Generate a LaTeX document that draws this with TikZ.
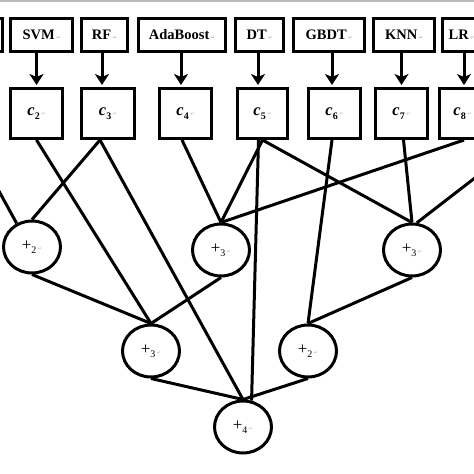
\documentclass[tikz,border=0pt]{standalone}
\usepackage{fontspec}
\setmainfont{Liberation Serif}
\newfontfamily\markfont{DejaVu Sans}
\usetikzlibrary{arrows.meta,shapes.geometric}
\newcommand{\rmark}{\hspace{1.5pt}{\markfont\fontsize{5}{5}\selectfont\color{gray!60}↵}}
\newcommand{\mysub}[1]{\raisebox{-3.5pt}{\fontsize{10}{10}\selectfont #1}}
\newcommand{\cl}[1]{\raisebox{-4pt}{{\bfseries\itshape c}\mysub{\bfseries #1}\rmark}}
\newcommand{\pl}[1]{{\fontsize{17}{17}\selectfont +}\mysub{#1}\rmark}
\begin{document}
\begin{tikzpicture}[x=1pt,y=-1pt,
 topbox/.style={draw,line width=3pt,minimum height=33pt,inner sep=0pt,font=\fontsize{14.5}{14.5}\selectfont\bfseries},
 cbox/.style={draw,line width=3pt,minimum height=50pt,inner sep=0pt,font=\fontsize{16.5}{16.5}\selectfont},
 sumnode/.style={draw,ellipse,line width=3pt,minimum width=57pt,minimum height=52pt,inner sep=0pt,font=\fontsize{15}{15}\selectfont},
 conn/.style={line width=3pt},
 arr/.style={line width=3pt,shorten >=2pt,-{Stealth[length=11pt,width=14pt,inset=3pt]}}]
\useasboundingbox (0,0) rectangle (474,474);
\clip (0,0) rectangle (474,474);
\fill[gray!55] (0,0) rectangle (474,2);
% top boxes
\node[topbox,minimum width=41pt] (t1) at (-18,35) {};
\node[topbox,minimum width=62pt] (svm) at (41.5,35) {SVM\rmark};
\node[topbox,minimum width=46pt] (rf) at (104.5,35) {RF\rmark};
\node[topbox,minimum width=87pt] (ada) at (182,35) {AdaBoost\rmark};
\node[topbox,minimum width=48pt] (dt) at (259.5,35) {DT\rmark};
\node[topbox,minimum width=71pt] (gbdt) at (329,35) {GBDT\rmark};
\node[topbox,minimum width=61pt] (knn) at (404,35) {KNN\rmark};
\node[topbox,minimum width=46pt] (lr) at (465.5,35) {\hspace*{-8pt}LR\rmark};
% c boxes
\node[cbox,minimum width=52pt] (c2) at (36.5,113.5) {\cl{2}};
\node[cbox,minimum width=53pt] (c3) at (108,113.5) {\cl{3}};
\node[cbox,minimum width=52pt] (c4) at (185.5,113.5) {\cl{4}};
\node[cbox,minimum width=50pt] (c5) at (262.5,113.5) {\cl{5}};
\node[cbox,minimum width=52pt] (c6) at (334.5,113.5) {\cl{6}};
\node[cbox,minimum width=52pt] (c7) at (401.5,113.5) {\cl{7}};
\node[cbox,minimum width=52pt] (c8) at (465.5,113.5) {\hspace*{-6pt}\cl{8}};
% sum nodes
\node[sumnode] (p2a) at (32,247) {\pl{2}};
\node[sumnode] (p3a) at (221,250) {\pl{3}};
\node[sumnode] (p3b) at (412,250) {\pl{3}};
\node[sumnode] (p3c) at (151,351) {\pl{3}};
\node[sumnode] (p2b) at (308,351) {\pl{2}};
\node[sumnode] (p4) at (243,427) {\pl{4}};
% arrows
\draw[arr] (svm.south -| c2.north) -- (c2.north);
\draw[arr] ([xshift=-2.5pt]rf.south) -- ([xshift=-2.5pt]rf.south |- c3.north);
\draw[arr] ([xshift=-1pt]ada.south) -- ([xshift=-1pt]ada.south |- c4.north);
\draw[arr] ([xshift=-1.5pt]dt.south) -- ([xshift=-1.5pt]dt.south |- c5.north);
\draw[arr] ([xshift=3pt]gbdt.south) -- ([xshift=3pt]gbdt.south |- c6.north);
\draw[arr] (knn.south -| c7.north) -- (c7.north);
\draw[arr] ([xshift=-1.5pt]c8.north |- lr.south) -- ([xshift=-1.5pt]c8.north);
% connections
\coordinate (c1b) at (-29,140);
\coordinate (c9b) at (524,140);
\draw[conn] (c1b) -- (p2a.123);
\draw[conn] ([xshift=-8pt]c3.south) -- (p2a.north);
\draw[conn] ([xshift=-8pt]c3.south) -- (p4.north);
\draw[conn] (c2.south) -- (p3c.north);
\draw[conn] ([xshift=-3.5pt]c4.south) -- (p3a.north);
\draw[conn] (c5.south) -- (p3a.north);
\draw[conn] ([xshift=-4pt]c5.south) -- (p4.72);
\draw[conn] (c5.south) -- (p3b.north);
\draw[conn] ([xshift=-2.5pt]c6.south) -- (p2b.north);
\draw[conn] ([xshift=2pt]c7.south) -- (p3b.north);
\draw[conn] ([xshift=-1.5pt]c8.south) -- (p3a.north);
\draw[conn] (c9b) -- (p3b.80);
\draw[conn] (p2a.south) -- (p3c.north);
\draw[conn] (p3a.south) -- (p3c.north);
\draw[conn] (p3b.south) -- (p2b.north);
\draw[conn] (p3c.south) -- (p4.north);
\draw[conn] (p2b.south) -- (p4.north);
\end{tikzpicture}
\end{document}
